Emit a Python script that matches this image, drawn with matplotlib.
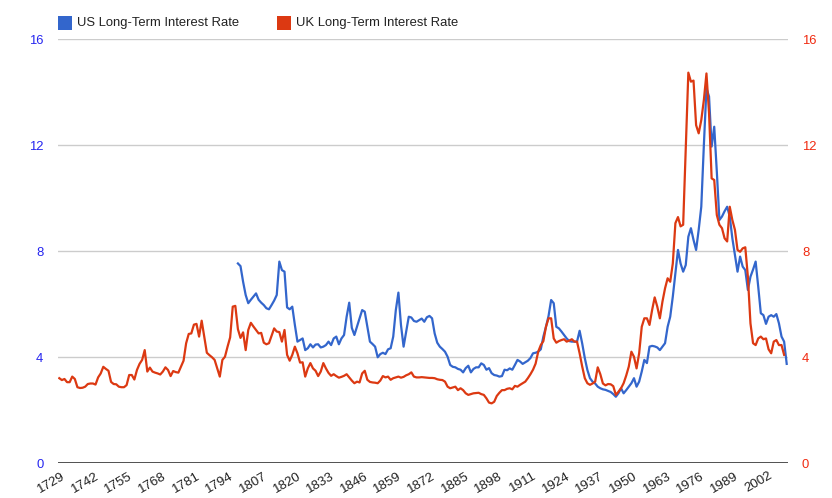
import matplotlib
matplotlib.use("Agg")
import matplotlib.pyplot as plt
from matplotlib.patches import Rectangle
from matplotlib.transforms import ScaledTranslation

plt.rcParams['font.family'] = ['Liberation Sans', 'DejaVu Sans']

US_COLOR = '#3366cc'
UK_COLOR = '#dc3912'

# UK long-term interest rate
uk_years = list(range(1729, 2010))
uk_rates = [
    3.20, 3.13, 3.17, 3.05, 3.05, 3.26, 3.17, 2.86, 2.83, 2.84,   # 1729-1738
    2.88, 2.98, 3.00, 3.00, 2.96, 3.23, 3.38, 3.63, 3.55, 3.48,   # 1739-1748
    3.06, 2.98, 2.97, 2.88, 2.86, 2.86, 2.94, 3.32, 3.32, 3.15,   # 1749-1758
    3.51, 3.74, 3.89, 4.26, 3.45, 3.60, 3.45, 3.41, 3.38, 3.34,   # 1759-1768
    3.45, 3.61, 3.51, 3.28, 3.47, 3.43, 3.41, 3.63, 3.86, 4.52,   # 1769-1778
    4.87, 4.89, 5.22, 5.25, 4.77, 5.37, 4.77, 4.16, 4.07, 3.99,   # 1779-1788
    3.89, 3.57, 3.26, 3.89, 4.01, 4.39, 4.74, 5.90, 5.93, 5.05,   # 1789-1798
    4.72, 4.93, 4.26, 5.02, 5.29, 5.15, 5.02, 4.89, 4.91, 4.54,   # 1799-1808
    4.48, 4.52, 4.80, 5.08, 4.96, 4.94, 4.58, 5.02, 4.08, 3.86,   # 1809-1818
    4.08, 4.39, 4.14, 3.79, 3.80, 3.26, 3.57, 3.77, 3.57, 3.48,   # 1819-1828
    3.28, 3.45, 3.77, 3.57, 3.40, 3.29, 3.35, 3.28, 3.22, 3.25,   # 1829-1838
    3.29, 3.35, 3.23, 3.11, 3.01, 3.07, 3.04, 3.38, 3.48, 3.14,   # 1839-1848
    3.06, 3.04, 3.03, 3.01, 3.11, 3.28, 3.23, 3.26, 3.14, 3.20,   # 1849-1858
    3.23, 3.26, 3.22, 3.25, 3.31, 3.35, 3.42, 3.26, 3.23, 3.23,   # 1859-1868
    3.24, 3.23, 3.22, 3.21, 3.21, 3.20, 3.16, 3.14, 3.13, 3.07,   # 1869-1878
    2.88, 2.82, 2.85, 2.88, 2.75, 2.82, 2.75, 2.63, 2.57, 2.60,   # 1879-1888
    2.63, 2.64, 2.65, 2.60, 2.57, 2.44, 2.28, 2.25, 2.31, 2.53,   # 1889-1898
    2.65, 2.75, 2.75, 2.80, 2.82, 2.78, 2.91, 2.88, 2.95, 3.01,   # 1899-1908
    3.07, 3.20, 3.35, 3.52, 3.75, 4.20, 4.45, 4.60, 5.14, 5.46,   # 1909-1918
    5.46, 4.70, 4.54, 4.60, 4.64, 4.67, 4.58, 4.62, 4.67, 4.58,   # 1919-1928
    4.58, 4.14, 3.64, 3.20, 3.01, 2.95, 3.00, 3.07, 3.61, 3.35,   # 1929-1938
    3.00, 2.93, 2.98, 2.97, 2.90, 2.57, 2.69, 2.82, 3.01, 3.30,   # 1939-1948
    3.64, 4.20, 4.01, 3.57, 4.14, 5.14, 5.46, 5.46, 5.21, 5.77,   # 1949-1958
    6.25, 5.90, 5.46, 6.09, 6.59, 6.97, 6.84, 7.53, 9.05, 9.28,   # 1959-1968
    8.93, 8.99, 11.80, 14.73, 14.39, 14.43, 12.75, 12.44, 12.94, 13.70,  # 1969-1978
    14.70, 13.20, 10.74, 10.68, 9.36, 8.99, 8.86, 8.48, 8.36, 9.67,      # 1979-1988
    9.17, 8.80, 8.04, 7.97, 8.10, 8.14, 7.03, 5.27, 4.52, 4.45,   # 1989-1998
    4.70, 4.77, 4.67, 4.70, 4.29, 4.14, 4.58, 4.64, 4.45, 4.45,   # 1999-2008
    4.08,                                                         # 2009
]

# US long-term interest rate
us_years = list(range(1798, 2011))
us_rates = [
    7.53, 7.43, 6.84, 6.34, 6.03, 6.16, 6.28, 6.40, 6.16, 6.05,   # 1798-1807
    5.96, 5.84, 5.80, 5.96, 6.13, 6.34, 7.60, 7.28, 7.22, 5.87,   # 1808-1817
    5.80, 5.90, 5.21, 4.58, 4.64, 4.70, 4.26, 4.33, 4.48, 4.36,   # 1818-1827
    4.47, 4.48, 4.36, 4.39, 4.45, 4.58, 4.45, 4.70, 4.77, 4.48,   # 1828-1837
    4.70, 4.83, 5.52, 6.05, 5.10, 4.83, 5.15, 5.46, 5.77, 5.71,   # 1838-1847
    5.15, 4.58, 4.49, 4.39, 3.99, 4.11, 4.16, 4.11, 4.29, 4.33,   # 1848-1857
    4.77, 5.77, 6.43, 5.20, 4.39, 4.96, 5.52, 5.49, 5.36, 5.33,   # 1858-1867
    5.39, 5.45, 5.33, 5.50, 5.55, 5.46, 4.89, 4.54, 4.39, 4.30,   # 1868-1877
    4.20, 4.01, 3.70, 3.63, 3.61, 3.55, 3.52, 3.42, 3.58, 3.67,   # 1878-1887
    3.42, 3.55, 3.61, 3.61, 3.76, 3.70, 3.52, 3.58, 3.39, 3.32,   # 1888-1897
    3.30, 3.26, 3.28, 3.52, 3.50, 3.57, 3.52, 3.70, 3.89, 3.83,   # 1898-1907
    3.74, 3.80, 3.86, 3.96, 4.14, 4.16, 4.20, 4.29, 4.77, 5.14,   # 1908-1917
    5.55, 6.15, 6.03, 5.14, 5.08, 4.96, 4.83, 4.70, 4.60, 4.58,   # 1918-1927
    4.58, 4.58, 4.99, 4.51, 3.96, 3.51, 3.20, 3.07, 3.00, 2.88,   # 1928-1937
    2.82, 2.78, 2.76, 2.72, 2.68, 2.60, 2.50, 2.63, 2.82, 2.63,   # 1938-1947
    2.75, 2.88, 3.01, 3.20, 2.88, 3.07, 3.45, 3.89, 3.77, 4.39,   # 1948-1957
    4.42, 4.40, 4.36, 4.26, 4.39, 4.52, 5.14, 5.52, 6.28, 7.16,   # 1958-1967
    8.04, 7.53, 7.22, 7.47, 8.54, 8.86, 8.42, 8.04, 8.80, 9.67,   # 1968-1977
    12.00, 14.14, 13.83, 11.94, 12.69, 11.00, 9.17, 9.30, 9.50, 9.67,   # 1978-1987
    9.30, 8.48, 7.85, 7.22, 7.79, 7.41, 7.28, 6.53, 7.03, 7.30,   # 1988-1997
    7.60, 6.65, 5.65, 5.58, 5.25, 5.52, 5.58, 5.52, 5.62, 5.27,   # 1998-2007
    4.77, 4.58, 3.74,                                             # 2008-2010
]
us_years = us_years[:len(us_rates)]

x_ticks = list(range(1729, 2003, 13))
y_ticks = [0, 4, 8, 12, 16]

W, H = 832, 498
fig = plt.figure(figsize=(W / 100, H / 100), dpi=100)
ax = fig.add_axes([58 / W, 35 / H, 730 / W, 424 / H])
ax2 = ax.twinx()

for a in (ax, ax2):
    a.set_ylim(0, 16)
    a.set_xlim(1728.5, 2010.5)
    for s in a.spines.values():
        s.set_visible(False)
    a.set_yticks(y_ticks)
    a.tick_params(length=0)

for v in y_ticks[1:]:
    ax.axhline(v, color='#cccccc', lw=1, zorder=0)
ax.axhline(0, color='#333333', lw=1.2, zorder=3)

ax.plot(us_years, us_rates, color=US_COLOR, lw=1.6, zorder=2, solid_joinstyle='round')
ax2.plot(uk_years, uk_rates, color=UK_COLOR, lw=1.6, zorder=2, solid_joinstyle='round')
ax.set_zorder(2)
ax2.set_zorder(3)
ax.patch.set_visible(False)
ax2.patch.set_visible(False)

ax.tick_params(axis='y', labelcolor='#2626f0', labelsize=9.4, pad=10.5)
ax2.tick_params(axis='y', labelcolor='#f02a10', labelsize=9.4, pad=10)

ax.set_xticks(x_ticks)
ax.set_xticklabels([str(y) for y in x_ticks], rotation=30, ha='right',
                   rotation_mode='anchor', va='top', fontsize=9.6, color='#222222')
ax.tick_params(axis='x', pad=5)
offset = ScaledTranslation(2 / 100, 0, fig.dpi_scale_trans)
for lbl in ax.get_xticklabels():
    lbl.set_transform(lbl.get_transform() + offset)

# legend, drawn in figure pixels
def px(x, y):
    return x / W, 1 - y / H

for sx, tx, col, label in [(58, 77, US_COLOR, 'US Long-Term Interest Rate'),
                           (277, 296, UK_COLOR, 'UK Long-Term Interest Rate')]:
    x0, y0 = px(sx, 30)
    fig.patches.append(Rectangle((x0, y0), 14 / W, 14 / H, transform=fig.transFigure,
                                 facecolor=col, edgecolor='none'))
    tx0, ty0 = px(tx, 23)
    fig.text(tx0, ty0, label, fontsize=9.4, color='#222222', va='center', ha='left')

fig.savefig('out.png', dpi=100)
